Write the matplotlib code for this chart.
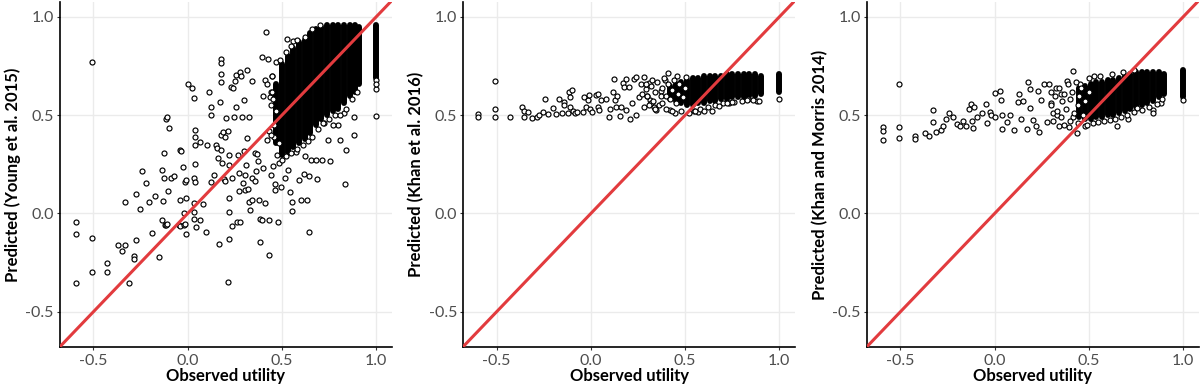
import matplotlib
matplotlib.use('Agg')
import matplotlib.pyplot as plt

plt.rcParams['font.family'] = ['Lato', 'DejaVu Sans']

# ---- Young et al. 2015 ----
obs_young = [-0.508, -0.593, -0.593, -0.593, -0.508, -0.508, -0.427, -0.427, -0.367, -0.349,
             -0.330, -0.330, -0.312, -0.284, -0.284, -0.272, -0.272, -0.254, -0.242, -0.222,
             -0.203, -0.189, -0.173, -0.152, -0.138, -0.134, -0.131, -0.125, -0.123, -0.118,
             -0.115, -0.110, -0.113, -0.108, -0.104, -0.097, -0.088, -0.071, -0.042, -0.042,
             -0.036, -0.046, -0.038, -0.026, -0.021, -0.016, -0.012, -0.007, 0.000, -0.007,
             -0.019, -0.011, 0.025, 0.032, 0.037, 0.041, 0.037, 0.037, 0.035, 0.037,
             0.035, 0.035, 0.034, 0.046, 0.063, 0.067, 0.081, 0.099, 0.102, 0.116,
             0.122, 0.124, 0.124, 0.139, 0.148, 0.155, 0.162, 0.169, 0.171, 0.175,
             0.178, 0.178, 0.178, 0.178, 0.178, 0.183, 0.190, 0.192, 0.196, 0.199,
             0.205, 0.215, 0.215, 0.220, 0.222, 0.222, 0.222, 0.222, 0.228, 0.233,
             0.236, 0.240, 0.247, 0.250, 0.259, 0.259, 0.261, 0.268, 0.272, 0.275,
             0.279, 0.279, 0.284, 0.287, 0.293, 0.298, 0.300, 0.305, 0.305, 0.310,
             0.314, 0.314, 0.319, 0.325, 0.328, 0.332, 0.339, 0.342, 0.344, 0.355,
             0.356, 0.363, 0.367, 0.374, 0.377, 0.383, 0.386, 0.393, 0.395, 0.399,
             0.409, 0.411, 0.414, 0.423, 0.427, 0.430, 0.434, 0.439, 0.441, 0.453,
             0.466, 0.466, 0.469, 0.480, 0.487, 0.496, 0.519, 0.526, 0.533, 0.543,
             0.552, 0.552, 0.559, 0.575, 0.593, 0.603, 0.616, 0.624, 0.635, 0.646,
             0.644, 0.656, 0.681, 0.688, 0.711, 0.743, 0.753, 0.808, 0.836, 0.839,
             0.884, 0.884, 0.831, 1.000, 1.000, 0.797, 0.769, 0.725, 0.440, 0.455,
             0.420, 0.470, 0.445, 0.400, 0.460, 0.485, 0.430, 0.475, 1.000, 1.000,
             0.500, 0.520, 0.550, 0.580, 0.610, 0.640, 0.660, 0.690, 0.720, 0.750,
             0.780, 0.810, 0.840, 0.870, 0.900, 0.490, 0.520, 0.550, 0.580, 0.620,
             0.660, 0.700, 0.440, 0.450, 0.460, 0.440, 0.450]
pred_young = [0.769, -0.044, -0.106, -0.351, -0.123, -0.297, -0.250, -0.297, -0.160, -0.193,
              -0.160, 0.056, -0.356, -0.216, -0.233, -0.135, 0.101, 0.024, 0.215, 0.157,
              0.057, -0.101, 0.091, -0.221, 0.220, -0.035, 0.066, 0.307, 0.179, -0.056,
              0.483, 0.493, -0.059, -0.052, 0.115, 0.436, 0.179, 0.193, 0.071, 0.324,
              0.316, -0.059, -0.064, 0.236, -0.059, 0.159, -0.054, 0.169, 0.657, 0.079,
              0.005, -0.106, 0.640, 0.052, 0.426, 0.389, 0.350, 0.250, 0.181, 0.162,
              0.008, -0.027, 0.586, -0.069, 0.363, -0.035, 0.047, -0.093, 0.350, 0.618,
              0.544, 0.502, 0.159, 0.194, 0.346, 0.333, 0.284, -0.154, 0.569, 0.321,
              0.400, 0.784, 0.767, 0.708, 0.669, 0.258, 0.417, 0.176, 0.389, 0.167,
              0.485, 0.422, -0.350, -0.132, 0.296, 0.247, 0.078, 0.007, 0.645, 0.181,
              -0.064, 0.637, 0.490, 0.672, 0.704, 0.544, -0.044, 0.299, 0.204, 0.115,
              -0.042, 0.720, 0.698, 0.493, 0.154, 0.576, 0.316, 0.198, 0.120, 0.245,
              0.731, 0.383, 0.125, 0.057, 0.493, 0.017, 0.071, 0.181, 0.676, 0.309,
              0.164, 0.215, 0.304, 0.269, 0.071, -0.029, -0.144, 0.794, -0.034, 0.230,
              0.054, 0.677, 0.921, 0.372, 0.784, -0.035, -0.213, 0.595, 0.194, 0.243,
              0.152, 0.118, 0.769, -0.044, 0.257, 0.133, 0.181, 0.889, 0.221, 0.108,
              0.056, 0.014, 0.875, 0.313, 0.172, 0.068, 0.201, 0.294, 0.068, -0.093,
              0.189, 0.274, 0.274, 0.176, 0.270, 0.375, 0.267, 0.372, 0.150, 0.324,
              0.400, 0.493, 0.510, 0.495, 0.633, 0.449, 0.451, 0.459, 0.620, 0.580,
              0.660, 0.520, 0.700, 0.600, 0.390, 0.360, 0.420, 0.300, 0.680, 0.660,
              0.270, 0.290, 0.310, 0.330, 0.350, 0.370, 0.390, 0.430, 0.460, 0.480,
              0.500, 0.500, 0.530, 0.580, 0.620, 0.780, 0.820, 0.850, 0.880, 0.900,
              0.940, 0.960, 0.550, 0.620, 0.450, 0.400, 0.700]
# dense vertical stacks of overlapping points (observed value, lowest, highest prediction)
dense_obs_young = [0.47, 0.50, 0.53, 0.56, 0.59, 0.62, 0.65, 0.68, 0.71, 0.74,
                   0.77, 0.80, 0.83, 0.86, 0.89, 0.91, 1.00]
dense_lo_young = [0.36, 0.30, 0.31, 0.34, 0.36, 0.38, 0.41, 0.45, 0.48, 0.50,
                  0.52, 0.53, 0.56, 0.60, 0.62, 0.66, 0.69]
dense_hi_young = [0.66, 0.76, 0.80, 0.84, 0.87, 0.88, 0.92, 0.94, 0.95, 0.96,
                  0.96, 0.96, 0.96, 0.96, 0.96, 0.95, 0.96]

# ---- Khan et al. 2016 ----
obs_khan16 = [-0.596, -0.596, -0.510, -0.510, -0.510, -0.429, -0.367, -0.353, -0.353, -0.332,
              -0.312, -0.286, -0.273, -0.256, -0.245, -0.229, -0.203, -0.185, -0.171, -0.153,
              -0.141, -0.141, -0.123, -0.116, -0.108, -0.101, -0.111, -0.097, -0.085, -0.071,
              -0.044, -0.035, -0.026, -0.014, -0.009, -0.004, 0.005, 0.026, 0.037, 0.037,
              0.041, 0.053, 0.079, 0.097, 0.101, 0.115, 0.123, 0.129, 0.132, 0.141,
              0.157, 0.160, 0.171, 0.176, 0.185, 0.185, 0.203, 0.210, 0.220, 0.231,
              0.242, 0.242, 0.256, 0.265, 0.282, 0.282, 0.295, 0.309, 0.312, 0.326,
              0.335, 0.344, 0.370, 0.393, 0.411, 0.418, 0.446, 0.459, 0.506, 0.547,
              0.570, 0.644, 0.732, 0.758, 0.834, 0.882, 1.000, 0.300, 0.320, 0.270,
              0.300, 0.320, 0.330, 0.340, 0.350, 0.360, 0.370, 0.380, 0.380, 0.390,
              0.400, 0.400, 0.410, 0.420, 0.430, 0.430, 0.440, 0.450, 0.460, 0.470,
              0.480, 0.490, 0.500, 0.340, 0.310, 0.290, 0.520, 0.550, 0.580, 0.620,
              0.660, 0.700, 0.750, 0.800, 0.860, 0.890, 0.600, 0.680, 0.720, 0.830]
pred_khan16 = [0.505, 0.493, 0.674, 0.530, 0.490, 0.493, 0.544, 0.519, 0.493, 0.517,
               0.488, 0.493, 0.503, 0.514, 0.584, 0.507, 0.535, 0.507, 0.584, 0.510,
               0.569, 0.552, 0.510, 0.620, 0.595, 0.628, 0.544, 0.519, 0.510, 0.514,
               0.515, 0.591, 0.544, 0.578, 0.603, 0.534, 0.515, 0.601, 0.608, 0.544,
               0.524, 0.578, 0.584, 0.493, 0.530, 0.618, 0.684, 0.578, 0.544, 0.598,
               0.497, 0.541, 0.662, 0.642, 0.682, 0.527, 0.642, 0.481, 0.561, 0.686,
               0.693, 0.502, 0.595, 0.659, 0.693, 0.544, 0.632, 0.662, 0.578, 0.679,
               0.541, 0.527, 0.625, 0.679, 0.716, 0.527, 0.510, 0.699, 0.693, 0.519,
               0.514, 0.522, 0.561, 0.569, 0.583, 0.573, 0.583, 0.600, 0.560, 0.610,
               0.600, 0.650, 0.570, 0.620, 0.670, 0.550, 0.600, 0.640, 0.560, 0.690,
               0.600, 0.530, 0.660, 0.580, 0.630, 0.520, 0.680, 0.560, 0.610, 0.660,
               0.520, 0.590, 0.640, 0.530, 0.550, 0.660, 0.510, 0.520, 0.530, 0.540,
               0.550, 0.560, 0.565, 0.570, 0.575, 0.570, 0.520, 0.545, 0.560, 0.575]
dense_obs_khan16 = [0.42, 0.45, 0.48, 0.51, 0.54, 0.57, 0.60, 0.63,
                    0.66, 0.69, 0.72, 0.75, 0.78, 0.81, 0.84, 0.87, 0.90, 1.00]
dense_lo_khan16 = [0.58, 0.57, 0.56, 0.55, 0.55, 0.56, 0.56, 0.57,
                   0.57, 0.58, 0.58, 0.59, 0.59, 0.59, 0.60, 0.60, 0.61, 0.62]
dense_hi_khan16 = [0.65, 0.66, 0.67, 0.68, 0.69, 0.69, 0.70, 0.70,
                   0.70, 0.70, 0.71, 0.71, 0.71, 0.71, 0.71, 0.71, 0.70, 0.71]

# ---- Khan and Morris 2014 ----
obs_khan14 = [-0.591, -0.591, -0.591, -0.508, -0.508, -0.508, -0.425, -0.425, -0.367, -0.347,
              -0.328, -0.328, -0.310, -0.284, -0.273, -0.256, -0.242, -0.220, -0.199, -0.185,
              -0.169, -0.152, -0.138, -0.125, -0.120, -0.115, -0.111, -0.093, -0.067, -0.048,
              -0.041, -0.026, -0.018, 0.000, 0.004, 0.030, 0.035, 0.039, 0.037, 0.065,
              0.083, 0.101, 0.122, 0.127, 0.141, 0.150, 0.171, 0.178, 0.185, 0.189,
              0.206, 0.220, 0.228, 0.238, 0.245, 0.263, 0.277, 0.286, 0.298, 0.312,
              0.326, 0.339, 0.351, 0.383, 0.392, 0.414, 0.418, 0.436, 0.453, 0.480,
              0.527, 0.647, 0.709, 0.838, 0.838, 0.885, 1.000, 0.753, 0.300, 0.330,
              0.300, 0.310, 0.320, 0.330, 0.340, 0.350, 0.360, 0.370, 0.370, 0.380,
              0.390, 0.400, 0.400, 0.410, 0.420, 0.430, 0.440, 0.440, 0.450, 0.460,
              0.470, 0.480, 0.490, 0.500, 0.520, 0.550, 0.580, 0.610, 0.640, 0.670,
              0.700, 0.740, 0.780, 0.820, 0.860, 0.890, 0.500, 0.560, 0.620, 0.680,
              0.740]
pred_khan14 = [0.438, 0.422, 0.372, 0.657, 0.438, 0.385, 0.392, 0.380, 0.409, 0.395,
               0.527, 0.465, 0.417, 0.426, 0.446, 0.480, 0.510, 0.490, 0.454, 0.446,
               0.468, 0.443, 0.530, 0.557, 0.468, 0.436, 0.541, 0.490, 0.510, 0.557,
               0.459, 0.514, 0.502, 0.611, 0.490, 0.622, 0.578, 0.502, 0.429, 0.463,
               0.502, 0.426, 0.569, 0.608, 0.480, 0.574, 0.429, 0.671, 0.632, 0.535,
               0.476, 0.443, 0.625, 0.412, 0.578, 0.657, 0.463, 0.659, 0.620, 0.510,
               0.640, 0.443, 0.608, 0.676, 0.439, 0.725, 0.493, 0.409, 0.659, 0.443,
               0.699, 0.443, 0.483, 0.527, 0.510, 0.564, 0.578, 0.535, 0.560, 0.500,
               0.550, 0.470, 0.600, 0.520, 0.640, 0.490, 0.570, 0.610, 0.450, 0.530,
               0.660, 0.580, 0.470, 0.620, 0.510, 0.670, 0.550, 0.460, 0.600, 0.640,
               0.500, 0.570, 0.450, 0.620, 0.460, 0.465, 0.470, 0.475, 0.480, 0.490,
               0.500, 0.515, 0.525, 0.540, 0.555, 0.580, 0.690, 0.700, 0.710, 0.720,
               0.730]
dense_obs_khan14 = [0.45, 0.48, 0.51, 0.54, 0.57, 0.60, 0.63,
                    0.66, 0.69, 0.72, 0.75, 0.78, 0.81, 0.84, 0.87, 0.90, 1.00]
dense_lo_khan14 = [0.49, 0.48, 0.48, 0.49, 0.49, 0.50, 0.50,
                   0.51, 0.52, 0.53, 0.54, 0.55, 0.56, 0.57, 0.59, 0.61, 0.59]
dense_hi_khan14 = [0.64, 0.65, 0.66, 0.67, 0.67, 0.68, 0.68,
                   0.69, 0.70, 0.71, 0.72, 0.72, 0.72, 0.72, 0.72, 0.71, 0.73]

ylabels = ['Predicted (Young et al. 2015)', 'Predicted (Khan et al. 2016)',
           'Predicted (Khan and Morris 2014)']
ticks = [-0.5, 0.0, 0.5, 1.0]


def plot_panel(ax, obs, pred, d_obs, d_lo, d_hi, ylabel):
    ax.set_xlim(-0.677, 1.083)
    ax.set_ylim(-0.681, 1.076)
    ax.set_xticks(ticks)
    ax.set_yticks(ticks)
    ax.grid(True, color='#ebebeb', linewidth=1.0, zorder=0)
    ax.set_axisbelow(True)
    lc = ax.vlines(d_obs, d_lo, d_hi, color='black', linewidth=4.3, zorder=2)
    lc.set_capstyle('round')
    ax.plot(obs, pred, 'o', markerfacecolor='white', markeredgecolor='black',
            markersize=3.6, markeredgewidth=0.85, linestyle='none', zorder=3)
    ax.axline((0, 0), slope=1, color='#e23b3e', linewidth=2.2, zorder=4)
    for s in ['top', 'right']:
        ax.spines[s].set_visible(False)
    for s in ['left', 'bottom']:
        ax.spines[s].set_linewidth(1.2)
        ax.spines[s].set_color('black')
    ax.tick_params(length=2.5, width=0.8, color='#333333', labelcolor='#4d4d4d',
                   labelsize=11.5, pad=2)
    ax.set_xticklabels(['-0.5', '0.0', '0.5', '1.0'])
    ax.set_yticklabels(['-0.5', '0.0', '0.5', '1.0'])
    ax.set_xlabel('Observed utility', fontsize=12, fontweight='bold', labelpad=0)
    ax.set_ylabel(ylabel, fontsize=12, fontweight='bold', labelpad=3)


fig = plt.figure(figsize=(12, 3.86), dpi=100)
lefts = [0.050, 0.386, 0.7225]
data = [(obs_young, pred_young, dense_obs_young, dense_lo_young, dense_hi_young),
        (obs_khan16, pred_khan16, dense_obs_khan16, dense_lo_khan16, dense_hi_khan16),
        (obs_khan14, pred_khan14, dense_obs_khan14, dense_lo_khan14, dense_hi_khan14)]
for i in range(3):
    ax = fig.add_axes([lefts[i], 0.100, 0.2765, 0.895])
    plot_panel(ax, *data[i], ylabels[i])

fig.savefig('out.png', dpi=100)
